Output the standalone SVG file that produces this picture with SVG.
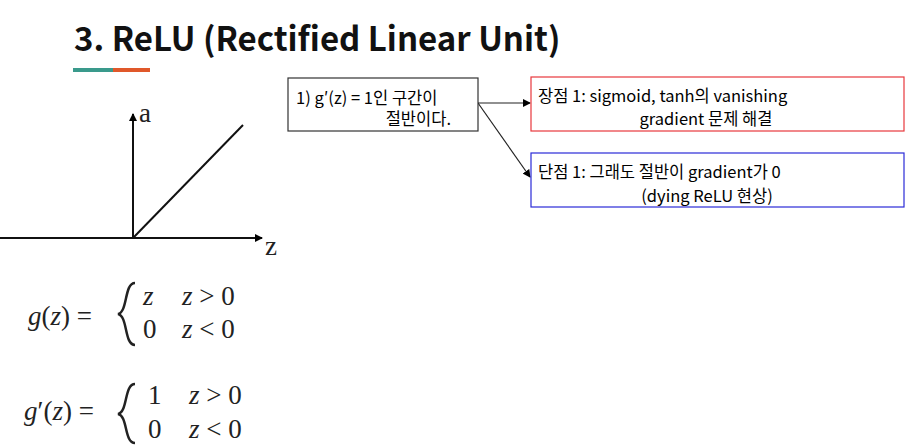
<svg xmlns="http://www.w3.org/2000/svg" width="908" height="448" viewBox="0 0 908 448">
<defs>
<marker id="ar" markerWidth="8" markerHeight="8" refX="7" refY="4" orient="auto" markerUnits="userSpaceOnUse"><path d="M0,0 L8,4 L0,8 z" fill="#000"/></marker>
</defs>
<style>
.t{font-family:"Noto Sans CJK KR","Noto Sans",sans-serif;font-size:16.5px;fill:#000}
.m{font-family:"Liberation Serif",serif;font-size:27px;font-style:normal;fill:#222}
.mi{font-family:"Liberation Serif",serif;font-size:27px;font-style:italic;fill:#222}
.ax{stroke:#111;stroke-width:2;fill:none}
</style>
<rect width="908" height="448" fill="#fff"/>
<text x="74" y="51" font-family="Noto Sans CJK KR,Noto Sans,sans-serif" font-weight="bold" font-size="33" fill="#111">3. ReLU (Rectified Linear Unit)</text>
<rect x="73" y="68" width="40" height="4" fill="#3a9a8c"/>
<rect x="113" y="68" width="37" height="4" fill="#e0582a"/>
<g id="graph">
<line class="ax" x1="0" y1="238" x2="262" y2="238" marker-end="url(#ar)"/>
<line class="ax" x1="133" y1="238" x2="133" y2="114" marker-end="url(#ar)"/>
<line class="ax" x1="133" y1="238" x2="243" y2="125"/>
<text x="139" y="122" class="m" font-size="22">a</text>
<text x="265" y="255" class="m" font-size="24">z</text>
</g>
<g id="eq1">
<text x="28" y="325" class="mi">g<tspan class="m">(</tspan>z<tspan class="m">) =</tspan></text>
<path d="M135,283 C124,283 128,312 118,314 C128,316 124,345 135,345" stroke="#222" stroke-width="2.5" fill="none"/>
<text x="143" y="305" class="mi">z</text>
<text x="182" y="305" class="mi">z <tspan class="m">&gt; 0</tspan></text>
<text x="143" y="338" class="m">0</text>
<text x="182" y="338" class="mi">z <tspan class="m">&lt; 0</tspan></text>
</g>
<g id="eq2">
<text x="24" y="420" class="mi">g<tspan class="m">′(</tspan>z<tspan class="m">) =</tspan></text>
<path d="M135,384 C124,384 128,412 118,414 C128,416 124,443 135,443" stroke="#222" stroke-width="2.5" fill="none"/>
<text x="148" y="404" class="m">1</text>
<text x="189" y="404" class="mi">z <tspan class="m">&gt; 0</tspan></text>
<text x="148" y="438" class="m">0</text>
<text x="189" y="438" class="mi">z <tspan class="m">&lt; 0</tspan></text>
</g>
<g id="connectors">
<line x1="478" y1="103" x2="530" y2="103" stroke="#222" stroke-width="1.2" marker-end="url(#ar)"/>
<line x1="478" y1="103" x2="530" y2="177" stroke="#222" stroke-width="1.2" marker-end="url(#ar)"/>
</g>
<g id="n1">
<rect x="288" y="78" width="190" height="53" fill="#fff" stroke="#333" stroke-width="1.2"/>
<text x="296" y="104" class="t" font-size="17.5">1) g′(z) = 1인 구간이</text>
<text x="451" y="125" class="t" font-size="17.5" text-anchor="end">절반이다.</text>
</g>
<g id="n2">
<rect x="531" y="77" width="373" height="54" fill="#fff" stroke="#e8383c" stroke-width="1.2"/>
<text x="538" y="102" class="t">장점 1: sigmoid, tanh의 vanishing</text>
<text x="706" y="125" class="t" text-anchor="middle">gradient 문제 해결</text>
</g>
<g id="n3">
<rect x="531" y="153" width="373" height="54" fill="#fff" stroke="#2a2ad8" stroke-width="1.2"/>
<text x="538" y="178" class="t">단점 1: 그래도 절반이 gradient가 0</text>
<text x="707" y="202" class="t" text-anchor="middle">(dying ReLU 현상)</text>
</g>
</svg>
